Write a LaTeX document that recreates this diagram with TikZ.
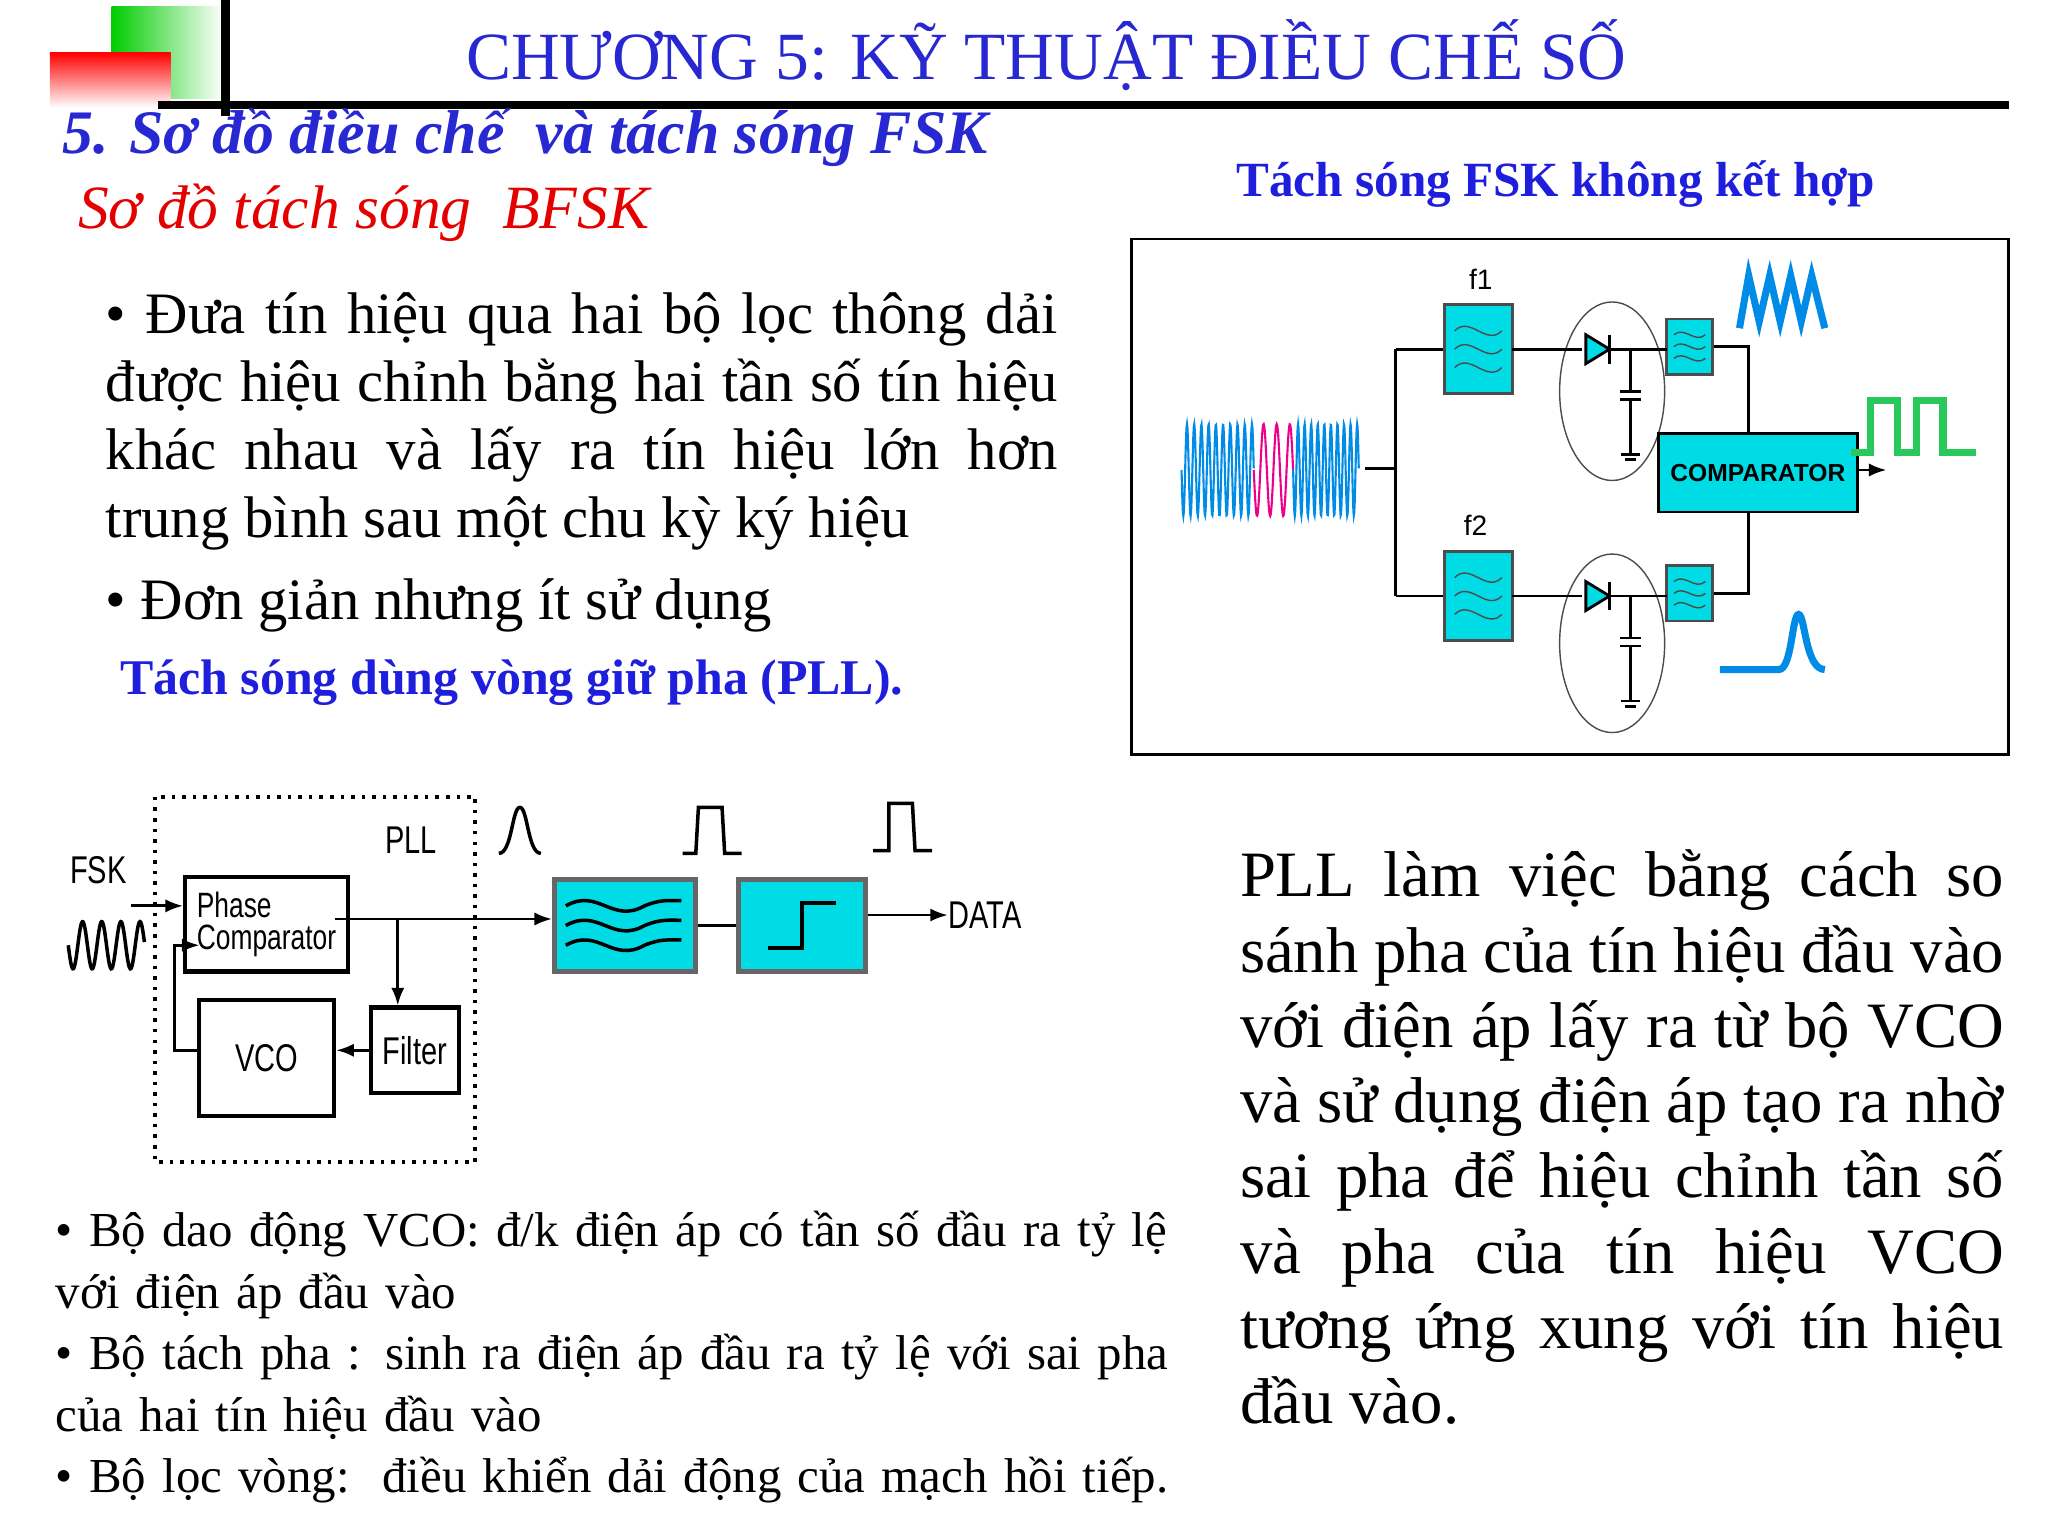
\documentclass[tikz,border=0pt]{standalone}
\usepackage{fontspec}
\setmainfont{Liberation Serif}
\setsansfont{Liberation Sans}
\usetikzlibrary{arrows.meta}
\definecolor{tblue}{RGB}{40,40,210}
\definecolor{hblue}{RGB}{30,30,220}
\definecolor{cy}{RGB}{0,220,230}
\definecolor{wblue}{RGB}{0,140,230}
\definecolor{wgreen}{RGB}{40,200,90}
\tikzset{
 fbox/.style={draw=black!70,fill=cy,line width=0.8pt},
 bbox/.style={draw,line width=1.2pt,fill=white},
 wire/.style={line width=0.8pt},
 arr/.style={wire,-{Latex[length=5pt]}},
 lab/.style={font=\sffamily\fontsize{10}{12}\selectfont,inner sep=0pt}
}
\begin{document}
\begin{tikzpicture}[x=0.01313cm,y=-0.01313cm]
\useasboundingbox (0,0) rectangle (1560,1170);
% header decoration
\shade[left color=green!80!black,right color=white] (85,5) rectangle (170,75);
\shade[top color=red,bottom color=white] (38,40) rectangle (130,82);
\draw[line width=2.5pt] (172,0) -- (172,88);
\draw[line width=2.5pt] (120,80) -- (1530,80);
\node[text=tblue,font=\fontsize{19.2}{22}\selectfont] (title) at (797,42) {CHƯƠNG 5: KỸ THUẬT ĐIỀU CHẾ SỐ};
\node[anchor=west,text=tblue,font=\bfseries\itshape\fontsize{17.6}{20}\selectfont] (h1) at (38,105) {5. Sơ đồ điều chế\ \ và tách sóng FSK};
\node[anchor=west,text=red!90!black,font=\itshape\fontsize{17.5}{20}\selectfont] (h2) at (50,162) {Sơ đồ tách sóng\ \ BFSK};
\node[anchor=north west,text width=725*0.01313cm,align=justify,inner sep=0pt,font=\fontsize{16.7}{19.4}\selectfont] (p1) at (80,222)
{\hspace*{0pt}• Đưa tín hiệu qua hai bộ lọc thông dải được hiệu chỉnh bằng hai tần số tín hiệu khác nhau và lấy ra tín hiệu lớn hơn\linebreak trung bình sau một chu kỳ ký hiệu\par\vspace{4pt}• Đơn giản nhưng ít sử dụng};
\node[anchor=west,text=hblue,font=\bfseries\fontsize{14.2}{17}\selectfont] (h3) at (82,520) {Tách sóng dùng vòng giữ pha (PLL).};
\node[text=hblue,font=\bfseries\fontsize{14}{17}\selectfont] (h4) at (1185,140) {Tách sóng FSK không kết hợp};
% right diagram
\draw[line width=0.8pt] (862,182) rectangle (1530,575);
\draw[wblue,line width=0.6pt] plot[domain=0:62.8,samples=160] ({900+\x*55/62.8},{358+35*sin(\x r)});
\draw[magenta,line width=0.6pt] plot[domain=0:18.85,samples=80] ({955+\x*30/18.85},{358+35*sin(\x r)});
\draw[wblue,line width=0.6pt] plot[domain=0:62.8,samples=160] ({985+\x*50/62.8},{358+35*sin(\x r)});
\coordinate (in) at (1040,357);
\coordinate (sp) at (1063,357);
\node[fbox,minimum width=52*0.01313cm,minimum height=68*0.01313cm] (f1) at (1126,266) {};
\node[fbox,minimum width=52*0.01313cm,minimum height=68*0.01313cm] (f2) at (1126,454) {};
\node[lab,font=\sffamily\fontsize{8}{9}\selectfont] at (1128,213) {f1};
\node[lab,font=\sffamily\fontsize{8}{9}\selectfont] at (1124,400) {f2};
\foreach \f in {f1,f2}{\foreach \d in {-14,0,14}{\draw[black!70] (\f.center) ++(-18,\d) .. controls +(12,-12) and +(-12,12) .. +(36,0);}}
\draw[wire] (in) -- (sp) (sp |- f1) -- (sp |- f2);
\draw[wire] (sp |- f1) -- (f1.west) (sp |- f2) -- (f2.west);
\draw[black!70] (1228,298) ellipse [x radius=40,y radius=68];
\draw[black!70] (1228,490) ellipse [x radius=40,y radius=68];
\node[fbox,minimum width=35*0.01313cm,minimum height=42*0.01313cm] (g1) at (1287,264) {};
\node[fbox,minimum width=35*0.01313cm,minimum height=42*0.01313cm] (g2) at (1287,452) {};
\foreach \g in {g1,g2}{\foreach \d in {-9,0,9}{\draw[black!70] (\g.center) ++(-12,\d) .. controls +(8,-7) and +(-8,7) .. +(24,0);}}
\foreach \yy/\g in {266/g1,454/g2}{
 \draw[wire] (1152,\yy) -- (1205,\yy);
 \draw[wire,fill=cy] (1208,\yy-11) -- (1208,\yy+11) -- (1226,\yy) -- cycle;
 \draw[wire] (1226,\yy-11) -- (1226,\yy+11);
 \draw[wire] (1226,\yy) -- (1270,\yy);
 \draw[wire] (1242,\yy) -- (1242,\yy+32) (1234,\yy+32) -- (1250,\yy+32) (1234,\yy+38) -- (1250,\yy+38) (1242,\yy+38) -- (1242,\yy+80) (1235,\yy+80)--(1249,\yy+80) (1238,\yy+84)--(1246,\yy+84);
}
\node[fbox,draw=black,minimum width=127*0.01313cm,minimum height=60*0.01313cm,font=\sffamily\bfseries\fontsize{7}{8}\selectfont] (cmp) at (1339,360) {COMPARATOR};
\draw[wire] (g1.east) -- (1332,264) -- (1332,330);
\draw[wire] (g2.east) -- (1332,452) -- (1332,390);
\coordinate (out) at (1437,358);
\draw[arr] (cmp.east |- out) -- (out);
\draw[wblue,line width=2pt] (1325,250) -- (1332,210) -- (1340,245) -- (1348,210) -- (1356,245) -- (1364,210) -- (1372,245) -- (1380,210) -- (1390,250);
\draw[wblue,line width=2pt] (1310,510) -- (1355,510) .. controls (1365,510) and (1365,468) .. (1370,468) .. controls (1375,468) and (1375,510) .. (1390,510);
\draw[wgreen,line width=2pt] (1410,345) -- (1425,345) -- (1425,305) -- (1445,305) -- (1445,345) -- (1460,345) -- (1460,305) -- (1480,305) -- (1480,345) -- (1505,345);
% PLL diagram
\draw[line width=1pt,dotted] (118,607) rectangle (362,885);
\node[lab,font=\sffamily\fontsize{11}{12}\selectfont,xscale=0.75] (pll) at (313,640) {PLL};
\node[lab,font=\sffamily\fontsize{11}{12}\selectfont,xscale=0.75] (fsk) at (75,663) {FSK};
\draw[line width=1pt] plot[domain=0:25,samples=120] ({52+\x*58/25},{720+18*sin(\x r)});
\node[bbox,minimum width=103*0.01313cm,minimum height=72*0.01313cm,align=left,font=\sffamily\fontsize{10}{11}\selectfont] (pc) at (203,704) {\scalebox{0.75}[1]{Phase}\\[-2pt]\scalebox{0.75}[1]{Comparator}};
\node[bbox,minimum width=103*0.01313cm,minimum height=88*0.01313cm,font=\sffamily\fontsize{11}{12}\selectfont] (vco) at (203,806) {\scalebox{0.75}[1]{VCO}};
\node[bbox,minimum width=63*0.01313cm,minimum height=65*0.01313cm,font=\sffamily\fontsize{11}{12}\selectfont] (flt) at (316,800) {\scalebox{0.75}[1]{Filter}};
\coordinate (fin) at (100,690);
\draw[arr] (fin) -- (pc.west |- fin);
\node[fbox,draw=black!60,line width=1.5pt,minimum width=107*0.01313cm,minimum height=70*0.01313cm] (bp) at (476,705) {};
\foreach \d in {-15,0,15}{\draw[line width=1pt] (bp.center) ++(-45,\d) .. controls +(25,-14) and +(-25,14) .. +(60,0) .. controls +(12,-5) and +(-10,0) .. +(88,-4);}
\node[fbox,draw=black!60,line width=1.5pt,minimum width=97*0.01313cm,minimum height=70*0.01313cm] (sl) at (611,705) {};
\draw[line width=1.2pt] (585,722) -- (611,722) -- (611,688) -- (637,688);
\draw[arr] (255,700) -- (bp.west |- 0,700);
\coordinate (br) at (303,700);
\draw[arr] (br) -- (flt.north -| br);
\draw[arr] (flt.west) -- (vco.east |- flt.west);
\draw[arr] (152,800) -- (133,800) -- (133,720) -- (152,720);
\draw[wire] (bp.east) -- (sl.west);
\node[lab,font=\sffamily\fontsize{11}{12}\selectfont,xscale=0.75,anchor=west] (data) at (722,697) {DATA};
\draw[arr] (sl.east |- data.west) -- (data.west);
\draw[line width=1pt] (380,650) .. controls (390,650) and (390,615) .. (396,615) .. controls (402,615) and (402,650) .. (412,650);
\draw[line width=1pt] (520,650) -- (530,650) -- (532,615) -- (550,615) -- (552,650) -- (565,650);
\draw[line width=1pt] (665,648) -- (677,648) -- (677,612) -- (695,612) -- (697,648) -- (710,648);
% bottom bullets
\node[anchor=north west,text width=880*0.01313cm,align=left,inner sep=0pt,font=\fontsize{13.9}{17.5}\selectfont] (p2) at (42,922)
{• Bộ dao động VCO: đ/k điện áp có tần số đầu ra tỷ lệ\\ với điện áp đầu vào\\• Bộ tách pha : sinh ra điện áp đầu ra tỷ lệ với sai pha\\ của hai tín hiệu đầu vào\\• Bộ lọc vòng:\ \ điều khiển dải động của mạch hồi tiếp.};
\node[anchor=north west,text width=582*0.01313cm,align=justify,inner sep=0pt,font=\fontsize{18.4}{21.4}\selectfont] (p3) at (944,647)
{PLL làm việc bằng cách so\linebreak sánh pha của tín hiệu đầu vào\linebreak với điện áp lấy ra từ bộ VCO\linebreak và sử dụng điện áp tạo ra nhờ\linebreak sai pha để hiệu chỉnh tần số\linebreak và pha của tín hiệu VCO\linebreak tương ứng xung với tín hiệu\linebreak đầu vào.};
\end{tikzpicture}
\end{document}
